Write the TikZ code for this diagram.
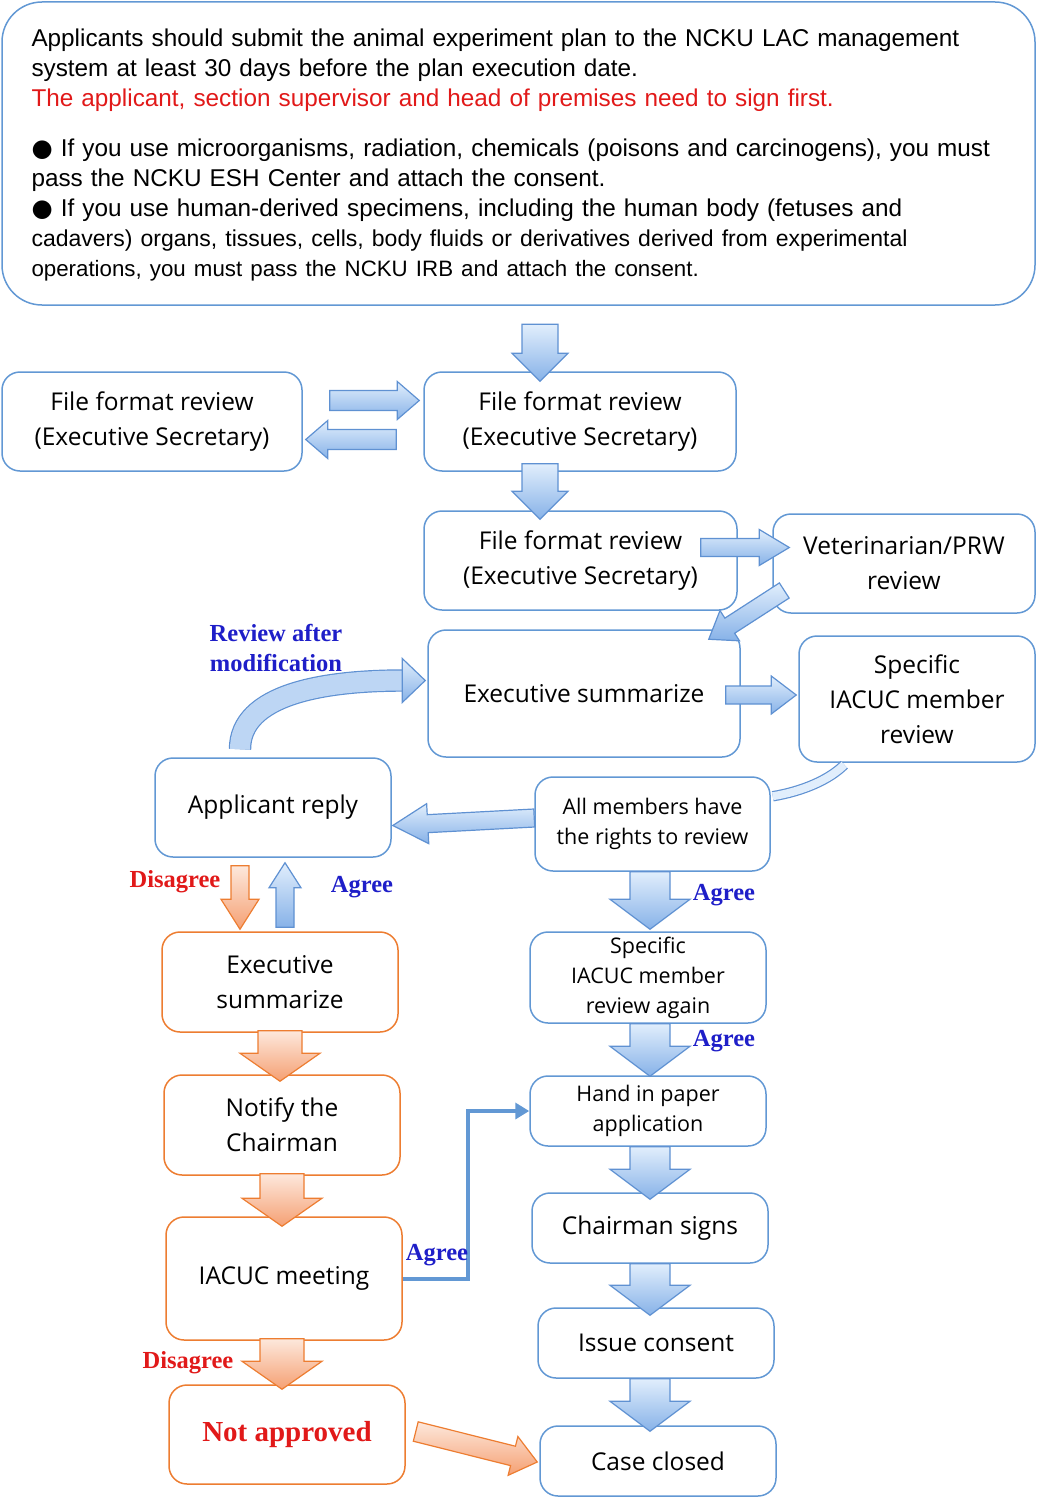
\documentclass[tikz,border=0pt]{standalone}
\usepackage{fontspec}
\setmainfont{Open Sans}
\newfontfamily\arialfont{Liberation Sans}
\newfontfamily\labelfont{Liberation Serif}
\newfontfamily\symfont{DejaVu Sans}
\usetikzlibrary{calc,arrows.meta}
\definecolor{boxblue}{RGB}{98,152,212}
\definecolor{boxorange}{RGB}{237,125,49}
\definecolor{arrtop}{RGB}{225,238,252}
\definecolor{arrbot}{RGB}{135,178,232}
\definecolor{arredge}{RGB}{95,145,210}
\definecolor{orgtop}{RGB}{253,232,220}
\definecolor{orgbot}{RGB}{245,160,115}
\definecolor{labblue}{RGB}{30,30,200}
\definecolor{labred}{RGB}{225,25,25}

\tikzset{every picture/.style={line width=1pt}}
\tikzset{
  bluebox/.style={draw=boxblue, line width=1.5pt, rounded corners=18pt, align=center,
    font=\fontsize{24.5}{35}\selectfont, fill=white},
  orangebox/.style={bluebox, draw=boxorange},
  smallbox/.style={bluebox, font=\fontsize{21.5}{30}\selectfont},
  bluearr/.style={draw=arredge, line width=1.2pt, top color=arrtop, bottom color=arrbot},
  orangearr/.style={draw=boxorange, line width=1.2pt, top color=orgtop, bottom color=orgbot},
  bluelab/.style={font=\labelfont\bfseries\fontsize{24.5}{30}\selectfont, text=labblue, align=center},
  redlab/.style={bluelab, text=labred},
}

% #1 style, #2 start, #3 end, #4 shaft half, #5 head half, #6 head length
\newcommand\blockarrow[6]{%
  \path #2 coordinate (ba-s) #3 coordinate (ba-e);
  \coordinate (ba-h) at ($(ba-e)!#6!(ba-s)$);
  \path[#1] ($(ba-s)!#4!90:(ba-e)$) -- ($(ba-h)!#4!-90:(ba-s)$) -- ($(ba-h)!#5!-90:(ba-s)$)
    -- (ba-e) -- ($(ba-h)!#5!90:(ba-s)$) -- ($(ba-h)!#4!90:(ba-s)$) -- ($(ba-s)!#4!-90:(ba-e)$) -- cycle;}

\begin{document}
\begin{tikzpicture}[x=1pt,y=1pt,yscale=-1]
\useasboundingbox (0,0) rectangle (1037,1498);

% intro box
\draw[draw=boxblue, line width=1.5pt, rounded corners=40pt] (2,2) rectangle (1035,305);
\node (intro) [anchor=north west, inner sep=0pt, align=left, text width=1000pt,
  font=\arialfont\fontsize{24.3}{30}\selectfont] at (31,28)
  {Applicants should submit the animal experiment plan to the NCKU LAC management\\
   system at least 30 days before the plan execution date.\\
   \textcolor{labred}{The applicant, section supervisor and head of premises need to sign first.}\\[20pt]
   {\symfont ●} If you use microorganisms, radiation, chemicals (poisons and carcinogens), you must\\
   pass the NCKU ESH Center and attach the consent.\\
   {\symfont ●} If you use human-derived specimens, including the human body (fetuses and\\
   {\fontsize{23}{30}\selectfont cadavers) organs, tissues, cells, body fluids or derivatives derived from experimental}\\
   {\fontsize{22.3}{30}\selectfont operations, you must pass the NCKU IRB and attach the consent.}};

% boxes
\node (fmtA) [bluebox, minimum width=300pt, minimum height=99pt] at (152,421.5) {File format review\\(Executive Secretary)};
\node (fmtB) [bluebox, minimum width=312pt, minimum height=99pt] at (580,421.5) {File format review\\(Executive Secretary)};
\node (fmtC) [bluebox, minimum width=313pt, minimum height=99pt] at (580.5,560.5) {File format review\\(Executive Secretary)};
\node (vet) [bluebox, minimum width=262pt, minimum height=99pt] at (904,563.5) {Veterinarian/PRW\\review};
\node (execsum) [bluebox, minimum width=312pt, minimum height=127pt] at (584,693.5) {Executive summarize};
\node (specrev) [bluebox, minimum width=236pt, minimum height=126pt] at (917,699) {Specific\\IACUC member\\review};
\node (reply) [bluebox, minimum width=236pt, minimum height=99pt] at (273,807.5) {Applicant reply};
\node (allmem) [smallbox, minimum width=235pt, minimum height=94pt] at (652.5,824) {All members have\\the rights to review};
\node (execsumB) [orangebox, minimum width=236pt, minimum height=100pt] at (280,982) {Executive\\summarize};
\node (notify) [orangebox, minimum width=236pt, minimum height=100pt] at (282,1125) {Notify the\\Chairman};
\node (meeting) [orangebox, minimum width=236pt, minimum height=123pt] at (284,1278.5) {IACUC meeting};
\node (notappr) [orangebox, minimum width=236pt, minimum height=99pt,
  font=\labelfont\bfseries\fontsize{29}{30}\selectfont, text=labred] at (287,1434.5) {Not approved};
\node (specagain) [smallbox, minimum width=236pt, minimum height=91pt] at (648,977.5) {Specific\\IACUC member\\review again};
\node (paper) [smallbox, minimum width=236pt, minimum height=70pt] at (648,1111) {Hand in paper\\application};
\node (signs) [bluebox, minimum width=236pt, minimum height=70pt] at (650,1228) {Chairman signs};
\node (consent) [bluebox, minimum width=236pt, minimum height=70pt] at (656,1343) {Issue consent};
\node (closed) [bluebox, minimum width=236pt, minimum height=70pt] at (658,1461) {Case closed};

% block arrows
\blockarrow{bluearr}{($(fmtB.north)+(-40,-47)$)}{($(fmtB.north)+(-40,10)$)}{18pt}{28pt}{28pt}
\blockarrow{bluearr}{($(fmtA.east)+(27,-21)$)}{($(fmtB.west)+(-4,-21)$)}{10pt}{19pt}{22pt}
\blockarrow{bluearr}{($(fmtB.west)+(-27,18)$)}{($(fmtA.east)+(3,18)$)}{10pt}{19pt}{22pt}
\blockarrow{bluearr}{($(fmtB.south)+(-40,-8)$)}{($(fmtC.north)+(-40.5,9)$)}{18pt}{28pt}{28pt}
\blockarrow{bluearr}{($(fmtC.east)+(-37,-13)$)}{($(vet.west)+(17,-16)$)}{9pt}{18pt}{30pt}
\blockarrow{bluearr}{($(vet.west)+(12,27)$)}{($(execsum.north east)+(-32,10)$)}{9pt}{18pt}{25pt}
\blockarrow{bluearr}{($(execsum.east)+(-15,1.5)$)}{($(specrev.west)+(-2,-4)$)}{9pt}{19pt}{25pt}
\blockarrow{bluearr}{($(allmem.west)+(0,-6)$)}{($(reply.east)+(1,18)$)}{9pt}{20pt}{35pt}
\blockarrow{orangearr}{($(reply.south)+(-33,8)$)}{($(execsumB.north)+(-40,-2)$)}{9pt}{19pt}{30pt}
\blockarrow{bluearr}{($(execsumB.north)+(5,-4)$)}{($(reply.south)+(12,5)$)}{9pt}{16pt}{25pt}
\blockarrow{orangearr}{($(execsumB.south)+(0,-2)$)}{($(notify.north)+(-2,7)$)}{22pt}{40pt}{28pt}
\blockarrow{orangearr}{($(notify.south)+(0,-2)$)}{($(meeting.north)+(-2,10)$)}{22pt}{40pt}{28pt}
\blockarrow{orangearr}{($(meeting.south)+(-2,-2)$)}{($(notappr.north)+(-5,5)$)}{22pt}{40pt}{28pt}
\blockarrow{orangearr}{($(notappr.east)+(10,-3)$)}{($(closed.west)+(-2,1)$)}{10pt}{20pt}{25pt}
\blockarrow{bluearr}{($(allmem.south)+(-2.5,0)$)}{($(specagain.north)+(2,-2)$)}{20pt}{40pt}{30pt}
\blockarrow{bluearr}{($(specagain.south)+(2,0)$)}{($(paper.north)+(2,1)$)}{20pt}{40pt}{30pt}
\blockarrow{bluearr}{($(paper.south)+(2,0)$)}{($(signs.north)+(0,7)$)}{20pt}{40pt}{30pt}
\blockarrow{bluearr}{($(signs.south)+(0,0)$)}{($(consent.north)+(-6,8)$)}{20pt}{40pt}{30pt}
\blockarrow{bluearr}{($(consent.south)+(-6,0)$)}{($(closed.north)+(-8,6)$)}{20pt}{40pt}{30pt}

% curved arrows
\draw[draw=arredge, line width=1.2pt, double=arrtop, double distance=8pt]
  ($(specrev.south west)+(46,2)$) .. controls +(-15,15) and +(30,-5) .. ($(allmem.north east)+(2,20)$);
\coordinate (curveend) at ($(execsum.west)+(-2,-13)$);
\draw[draw=arredge, line width=1.2pt, double=arrtop!60!arrbot, double distance=20pt]
  ($(reply.north)+(-33,-8)$) .. controls +(0,-55) and +(-80,0) .. ($(curveend)+(-22,0)$);
\path[bluearr] ($(curveend)+(-23,-22)$) -- (curveend) -- ($(curveend)+(-23,22)$) -- cycle;

% agree line
\draw[draw=boxblue, line width=4pt, -{Triangle[length=14pt,width=16pt]}] (meeting.east) -- ++(65,0) |- (paper.west);

% labels
\node (lbmod) [bluelab] at (276,648) {Review after\\modification};
\node (lbdis1) [redlab] at (175,882) {Disagree};
\node (lbag1) [bluelab] at (362,887) {Agree};
\node (lbag2) [bluelab] at (724,895) {Agree};
\node (lbag3) [bluelab] at (724,1041) {Agree};
\node (lbag4) [bluelab] at (437,1255) {Agree};
\node (lbdis2) [redlab] at (188,1363) {Disagree};

\end{tikzpicture}
\end{document}
